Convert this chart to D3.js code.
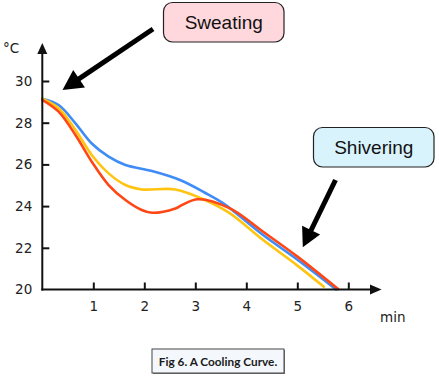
<!DOCTYPE html>
<html><head><meta charset="utf-8">
<script src="https://cdn.jsdelivr.net/npm/d3@7"></script>
<style>html,body{margin:0;padding:0;background:#fff}svg{display:block}</style>
</head><body>
<svg id="c" width="439" height="383"></svg>
<script>
// ---- data ----
const yTicks = [20, 22, 24, 26, 28, 30];
const xTicks = [1, 2, 3, 4, 5, 6];
const blueTime = [0, 0.32, 0.65, 0.97, 1.3, 1.63, 2.15, 2.7, 3.19, 3.55, 4.33, 4.99, 5.76];
const blueTemp = [29.15, 28.85, 27.97, 27.0, 26.37, 25.97, 25.68, 25.25, 24.64, 24.13, 22.61, 21.45, 20.0];
const yellowTime = [0, 0.32, 0.65, 0.97, 1.3, 1.63, 1.95, 2.61, 3.19, 3.68, 4.33, 4.99, 5.52];
const yellowTemp = [29.15, 28.69, 27.65, 26.45, 25.57, 25.01, 24.8, 24.8, 24.29, 23.65, 22.37, 21.17, 20.13];
const redTime = [0, 0.32, 0.65, 0.97, 1.3, 1.63, 1.95, 2.15, 2.61, 2.74, 3.05, 3.68, 4.33, 4.99, 5.8];
const redTemp = [29.1, 28.53, 27.41, 26.13, 25.01, 24.29, 23.81, 23.68, 23.89, 24.05, 24.33, 23.89, 22.77, 21.6, 20.02];
const seriesNames = ["blue", "yellow", "red"];
const seriesColors = ["#3f8cf6", "#ffc412", "#ff4716"];

const svg = d3.select("#c");
const x = d3.scaleLinear().domain([0, 6]).range([42.3, 348.3]);
const y = d3.scaleLinear().domain([20, 30]).range([289.5, 81]);
const font = "'DejaVu Sans', sans-serif";

// ---- curves ----
const line = d3.line().x(d => x(d[0])).y(d => y(d[1])).curve(d3.curveCatmullRom.alpha(0.5));
const seriesData = [
  d3.zip(blueTime, blueTemp),
  d3.zip(yellowTime, yellowTemp),
  d3.zip(redTime, redTemp)
];
svg.append("g").selectAll("path").data(seriesData).join("path")
  .attr("d", line).attr("fill", "none")
  .attr("stroke", (d, i) => seriesColors[i]).attr("stroke-width", 2.6)
  .attr("stroke-linecap", "round");

// ---- axes ----
const ya = svg.append("g").attr("transform", `translate(${x(0)},0)`)
  .call(d3.axisLeft(y).tickValues(yTicks).tickFormat(d3.format("d"))
    .tickSizeInner(-7).tickSizeOuter(0).tickPadding(10));
ya.select(".domain").remove();
ya.selectAll("line").attr("stroke", "#111").attr("stroke-width", 2);
ya.selectAll("text").attr("font-family", font).attr("font-size", 13.5).attr("fill", "#222");
ya.selectAll(".tick").filter(d => d === 20).select("line").remove();

const xa = svg.append("g").attr("transform", `translate(0,${y(20)})`)
  .call(d3.axisBottom(x).tickValues(xTicks).tickFormat(d3.format("d"))
    .tickSizeInner(-7).tickSizeOuter(0).tickPadding(12));
xa.select(".domain").remove();
xa.selectAll("line").attr("stroke", "#111").attr("stroke-width", 2);
xa.selectAll("text").attr("font-family", font).attr("font-size", 13.5).attr("fill", "#222");

// axis lines with arrowheads
const x0 = x(0), y0 = y(20);
svg.append("line").attr("x1", x0).attr("y1", y0 + 1).attr("x2", x0).attr("y2", 50)
  .attr("stroke", "#111").attr("stroke-width", 2);
svg.append("path").attr("d", `M${x0},43 L${x0 - 5},54 L${x0 + 5},54 Z`).attr("fill", "#111");
svg.append("line").attr("x1", x0 - 1).attr("y1", y0).attr("x2", 374).attr("y2", y0)
  .attr("stroke", "#111").attr("stroke-width", 2);
svg.append("path").attr("d", `M381.5,${y0} L370,${y0 - 5} L370,${y0 + 5} Z`).attr("fill", "#111");

svg.append("text").attr("x", 3).attr("y", 52.7).text("°C")
  .attr("font-family", font).attr("font-size", 13.5).attr("fill", "#222");
svg.append("text").attr("x", 380).attr("y", 322).text("min")
  .attr("font-family", font).attr("font-size", 13.5).attr("fill", "#222");

// ---- annotations ----
function arrow(x1, y1, x2, y2, headLen, headW) {
  const dx = x2 - x1, dy = y2 - y1, L = Math.hypot(dx, dy);
  const ux = dx / L, uy = dy / L;
  const bx = x2 - ux * headLen, by = y2 - uy * headLen;
  svg.append("line").attr("x1", x1).attr("y1", y1)
    .attr("x2", bx + ux * 2).attr("y2", by + uy * 2)
    .attr("stroke", "#000").attr("stroke-width", 5);
  svg.append("path").attr("d",
    `M${x2},${y2} L${bx - uy * headW / 2},${by + ux * headW / 2} L${bx + uy * headW / 2},${by - ux * headW / 2} Z`)
    .attr("fill", "#000");
}
arrow(153, 29, 62.5, 90, 20, 21);
arrow(335.5, 180, 302.8, 247.3, 19, 20);

function box(bx, by, w, h, fill, label) {
  svg.append("rect").attr("x", bx).attr("y", by).attr("width", w).attr("height", h)
    .attr("rx", 9).attr("fill", fill).attr("stroke", "#222").attr("stroke-width", 1.2);
  svg.append("text").attr("x", bx + w / 2).attr("y", by + h / 2 + 7)
    .attr("text-anchor", "middle").text(label)
    .attr("font-family", "'Liberation Sans', Arial, sans-serif")
    .attr("font-size", 19).attr("fill", "#111");
}
box(163.5, 2.5, 120.5, 39.5, "#ffd8dd", "Sweating");
box(313.5, 127.5, 120.5, 39.5, "#d9f3fd", "Shivering");

// ---- caption ----
svg.append("rect").attr("x", 153).attr("y", 350).attr("width", 132).attr("height", 24)
  .attr("fill", "#7a7a7a");
svg.append("rect").attr("x", 152).attr("y", 349).attr("width", 132).attr("height", 24)
  .attr("fill", "#f4f8fd").attr("stroke", "#444").attr("stroke-width", 1);
svg.append("text").attr("x", 218).attr("y", 366).attr("text-anchor", "middle")
  .text("Fig 6. A Cooling Curve.")
  .attr("font-family", "Lato, sans-serif").attr("font-weight", "bold")
  .attr("font-size", 11.8).attr("fill", "#1a1a1a");
</script>
</body></html>
